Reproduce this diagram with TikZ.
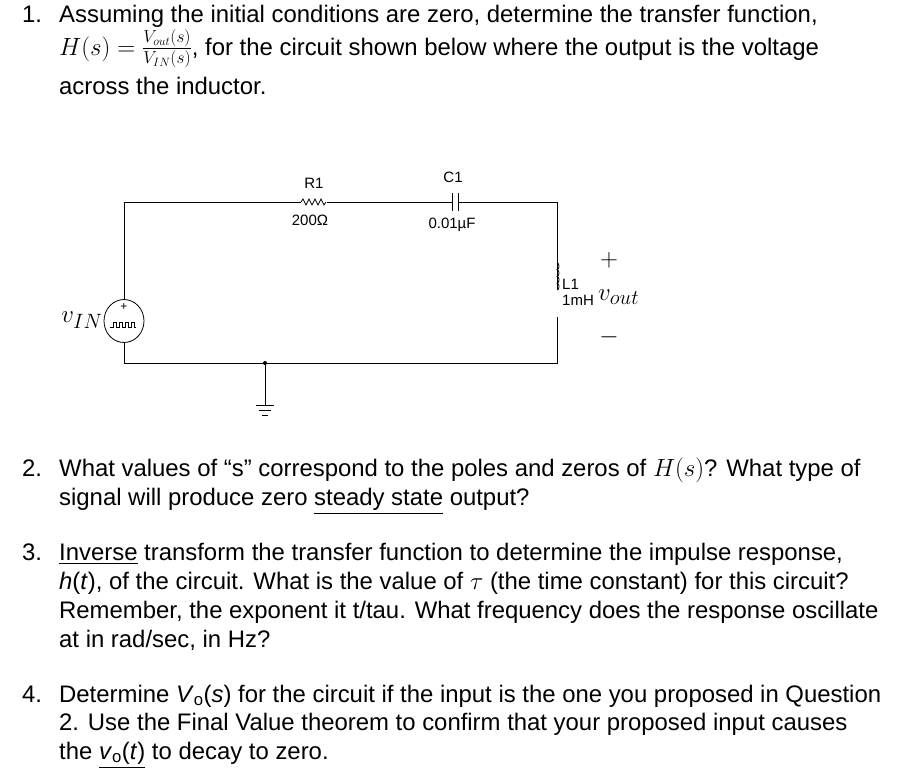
\documentclass[tikz,border=0pt]{standalone}
\usepackage{fontspec}
\usepackage{amsmath}
\setmainfont{Liberation Sans}
\newcommand{\qfont}{\fontsize{23.9}{28}\selectfont}
\newcommand{\sfont}{\fontsize{15}{17}\selectfont}
\begin{document}
\begin{tikzpicture}[x=1pt,y=-1pt,
  txt/.style={anchor=base west,inner sep=0pt,font=\qfont},
  lbl/.style={inner sep=0pt,font=\sfont},
  wire/.style={line width=0.8pt}]
\useasboundingbox (0,0) rectangle (912,772);
\fill[white] (0,0) rectangle (912,772);
% text
\node[txt] (n1) at (22,22) {1.};
\node[txt] (t1) at (59,22) {Assuming the initial conditions are zero, determine the transfer function,};
\node[txt] (t2) at (59,55) {$H(s)=\frac{V_{out}(s)}{V_{IN}(s)}$, for the circuit shown below where the output is the voltage};
\node[txt] (t3) at (59,94) {across the inductor.};
\node[txt] (n2) at (22,476) {2.};
\node[txt] (t4) at (59,476) {What values of “s” correspond to the poles and zeros of $H(s)$? What type of};
\node[txt] (t5) at (59,505) {signal will produce zero \underline{steady state} output?};
\node[txt] (n3) at (22,560) {3.};
\node[txt] (t6) at (59,560) {\underline{Inverse} transform the transfer function to determine the impulse response,};
\node[txt] (t7) at (59,589) {\textit{h}(\textit{t}), of the circuit. What is the value of $\tau$ (the time constant) for this circuit?};
\node[txt] (t8) at (59,618) {Remember, the exponent it t/tau. What frequency does the response oscillate};
\node[txt] (t9) at (59,647) {at in rad/sec, in Hz?};
\node[txt] (n4) at (22,702) {4.};
\node[txt] (t10) at (59,702) {Determine \textit{V}\textsubscript{o}(\textit{s}) for the circuit if the input is the one you proposed in Question};
\node[txt] (t11) at (59,730) {2. Use the Final Value theorem to confirm that your proposed input causes};
\node[txt] (t12) at (59,759) {the \underline{\textit{v}\textsubscript{o}(\textit{t})} to decay to zero.};
% circuit
\coordinate (tl) at (124,202);
\coordinate (tr) at (557,202);
\coordinate (bl) at (124,363);
\coordinate (br) at (557,363);
\coordinate (gd) at (265,363);
\draw[wire] (124,299) -- (tl) -- (301,202);
\draw[wire] (301,202) -- ++(2,-3) -- ++(3,6) -- ++(3,-6) -- ++(3,6) -- ++(3,-6) -- ++(3,6) -- ++(3,-6) -- ++(3,6) -- ++(2,-3);
\draw[wire] (327,202) -- (452,202);
\draw[wire] (452,193) -- (452,211);
\draw[wire] (458,193) -- (458,211);
\draw[wire] (458,202) -- (tr) -- (557,290);
\draw[wire] (557,290) arc (90:-90:2 and 3.4) arc (90:-90:2 and 3.4) arc (90:-90:2 and 3.4) arc (90:-90:2 and 3.4);
\draw[wire] (557,317) -- (br) -- (bl) -- (124,342);
\draw[wire] (124,321) ellipse (20 and 21.5);
\node[lbl,font=\fontsize{12}{13}\selectfont] (plus) at (124,307) {+};
\draw[wire] (110,327) -- (113,327) -- (113,322) -- (116,322) -- (116,327) -- (119,327) -- (119,322) -- (122,322) -- (122,327) -- (125,327) -- (125,322) -- (128,322) -- (128,327) -- (131,327) -- (131,322) -- (134,322) -- (134,327) -- (136,327);
\fill (gd) circle (2);
\draw[wire] (gd) -- (265,405);
\draw[wire] (256,405) -- (274,405);
\draw[wire] (259,410) -- (271,410);
\draw[wire] (262,415) -- (268,415);
\node[lbl] (r1) at (314,183) {R1};
\node[lbl] (r1v) at (310,220) {200Ω};
\node[lbl] (c1) at (453,177) {C1};
\node[lbl] (c1v) at (452,225) {0.01µF};
\node[lbl,anchor=west] (l1) at (562,284) {L1};
\node[lbl,anchor=west] (l1v) at (562,300) {1mH};
\node[inner sep=0pt,font=\fontsize{28}{30}\selectfont] (vin) at (82,320) {$v_{IN}$};
\node[inner sep=0pt,anchor=west,font=\fontsize{28}{30}\selectfont] (vout) at (598,297) {$v_{out}$};
\node[inner sep=0pt,font=\fontsize{28}{30}\selectfont] (vp) at (609,260) {$+$};
\node[inner sep=0pt,font=\fontsize{28}{30}\selectfont] (vm) at (609,337) {$-$};
\end{tikzpicture}
\end{document}
